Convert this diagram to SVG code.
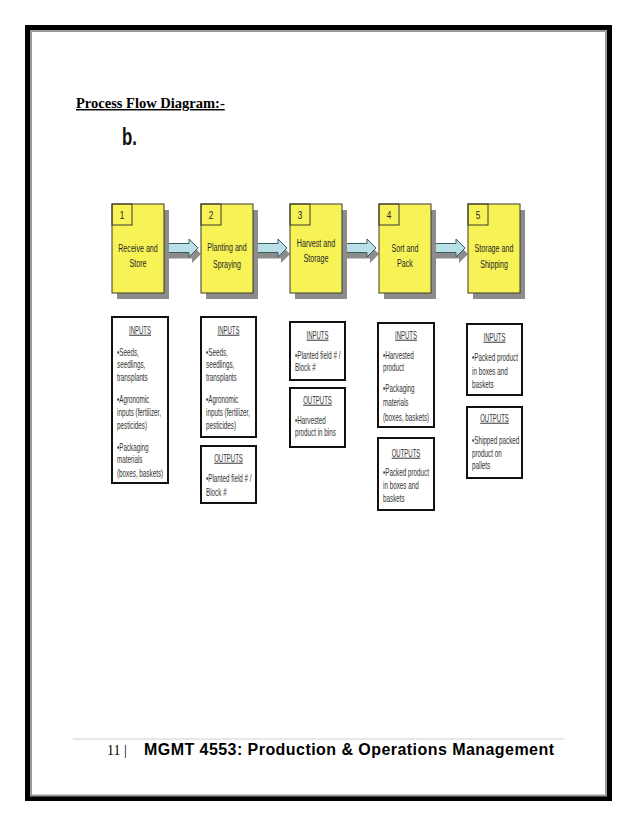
<svg xmlns="http://www.w3.org/2000/svg" width="638" height="826" viewBox="0 0 638 826">
<style>
.frame{fill:none;stroke:#000;stroke-width:5}
.frame2{fill:none;stroke:#9a9a9a;stroke-width:2}
.title{font-family:"Liberation Serif",serif;font-weight:bold;font-size:14.5px;text-decoration:underline;fill:#000}
.pbox{fill:#f7f356;stroke:#3a3a2a;stroke-width:1}
.shadow{fill:#8c8c8c}
.nbox{fill:none;stroke:#3a3a2a;stroke-width:1}
.lbl{font-family:"Liberation Sans",Arial,sans-serif;font-size:11.5px;fill:#262626;text-anchor:middle}
.num{font-family:"Liberation Sans",Arial,sans-serif;font-size:11px;fill:#262626;text-anchor:middle}
.ibox{fill:#fff;stroke:#111;stroke-width:2}
.hdr{font-family:"Liberation Sans",Arial,sans-serif;font-size:10px;fill:#333;text-anchor:middle;text-decoration:underline}
.itm{font-family:"Liberation Sans",Arial,sans-serif;font-size:10px;fill:#333}
.arrow{fill:#b9e0e6;stroke:#3d5a60;stroke-width:1}
.ashadow{fill:#8c8c8c}
.foot{font-family:"Liberation Sans",Arial,sans-serif;font-weight:bold;font-size:16px;fill:#000}
.pg{font-family:"Liberation Serif",serif;font-size:14px;fill:#000}
</style>
<defs>
<path id="arr" d="M0,-4.5 H23 V-9 L32,0 L23,9 V4.5 H0 Z"/>
</defs>
<rect width="638" height="826" fill="#fff"/>
<rect class="frame" x="27.5" y="27.5" width="582" height="771"/>
<rect class="frame2" x="31" y="31" width="575" height="764.5"/>
<text class="title" x="76" y="108">Process Flow Diagram:-</text>
<text font-family="Liberation Sans,Arial,sans-serif" font-size="24" font-weight="bold" fill="#111" transform="translate(122,145) scale(0.7,1)">b.</text>

<g id="connectors">
<use href="#arr" class="ashadow" transform="translate(169,254)"/>
<use href="#arr" class="arrow" transform="translate(166,248)"/>
<use href="#arr" class="ashadow" transform="translate(258,254)"/>
<use href="#arr" class="arrow" transform="translate(255,248)"/>
<use href="#arr" class="ashadow" transform="translate(347,254)"/>
<use href="#arr" class="arrow" transform="translate(344,248)"/>
<use href="#arr" class="ashadow" transform="translate(436,254)"/>
<use href="#arr" class="arrow" transform="translate(433,248)"/>
</g>

<g id="step1">
<rect class="shadow" x="117" y="210" width="52" height="89"/>
<rect class="pbox" x="112" y="204" width="52" height="89"/>
<rect class="nbox" x="112" y="204" width="20" height="21"/>
<text class="num" transform="translate(122,219) scale(0.75,1)">1</text>
<text class="lbl" transform="translate(138,252) scale(0.62,1)">Receive and</text>
<text class="lbl" transform="translate(138,267) scale(0.62,1)">Store</text>
</g>
<g id="step2">
<rect class="shadow" x="206" y="210" width="52" height="89"/>
<rect class="pbox" x="201" y="204" width="52" height="89"/>
<rect class="nbox" x="201" y="204" width="20" height="21"/>
<text class="num" transform="translate(211,219) scale(0.75,1)">2</text>
<text class="lbl" transform="translate(227,251) scale(0.62,1)">Planting and</text>
<text class="lbl" transform="translate(227,268) scale(0.62,1)">Spraying</text>
</g>
<g id="step3">
<rect class="shadow" x="295" y="210" width="52" height="89"/>
<rect class="pbox" x="290" y="204" width="52" height="89"/>
<rect class="nbox" x="290" y="204" width="20" height="21"/>
<text class="num" transform="translate(300,219) scale(0.75,1)">3</text>
<text class="lbl" transform="translate(316,247) scale(0.62,1)">Harvest and</text>
<text class="lbl" transform="translate(316,262) scale(0.62,1)">Storage</text>
</g>
<g id="step4">
<rect class="shadow" x="384" y="210" width="52" height="89"/>
<rect class="pbox" x="379" y="204" width="52" height="89"/>
<rect class="nbox" x="379" y="204" width="20" height="21"/>
<text class="num" transform="translate(389,219) scale(0.75,1)">4</text>
<text class="lbl" transform="translate(405,252) scale(0.62,1)">Sort and</text>
<text class="lbl" transform="translate(405,267) scale(0.62,1)">Pack</text>
</g>
<g id="step5">
<rect class="shadow" x="473" y="210" width="52" height="89"/>
<rect class="pbox" x="468" y="204" width="52" height="89"/>
<rect class="nbox" x="468" y="204" width="20" height="21"/>
<text class="num" transform="translate(478,219) scale(0.75,1)">5</text>
<text class="lbl" transform="translate(494,252) scale(0.62,1)">Storage and</text>
<text class="lbl" transform="translate(494,268) scale(0.62,1)">Shipping</text>
</g>

<g id="inputs1">
<rect class="ibox" x="112" y="317" width="56" height="166"/>
<text class="hdr" transform="translate(140,333.5) scale(0.6,1)">INPUTS</text>
<text class="itm" transform="translate(117,355.5) scale(0.63,1)">•Seeds,</text>
<text class="itm" transform="translate(117,367.5) scale(0.63,1)">seedlings,</text>
<text class="itm" transform="translate(117,380.5) scale(0.63,1)">transplants</text>
<text class="itm" transform="translate(117,402.5) scale(0.63,1)">•Agronomic</text>
<text class="itm" transform="translate(117,415.5) scale(0.63,1)">inputs (fertilizer,</text>
<text class="itm" transform="translate(117,428.5) scale(0.63,1)">pesticides)</text>
<text class="itm" transform="translate(117,450.5) scale(0.63,1)">•Packaging</text>
<text class="itm" transform="translate(117,462.5) scale(0.63,1)">materials</text>
<text class="itm" transform="translate(117,476.5) scale(0.63,1)">(boxes, baskets)</text>
</g>
<g id="inputs2">
<rect class="ibox" x="201" y="317" width="55" height="120"/>
<text class="hdr" transform="translate(228.5,333.5) scale(0.6,1)">INPUTS</text>
<text class="itm" transform="translate(206,355.5) scale(0.63,1)">•Seeds,</text>
<text class="itm" transform="translate(206,367.5) scale(0.63,1)">seedlings,</text>
<text class="itm" transform="translate(206,380.5) scale(0.63,1)">transplants</text>
<text class="itm" transform="translate(206,402.5) scale(0.63,1)">•Agronomic</text>
<text class="itm" transform="translate(206,415.5) scale(0.63,1)">inputs (fertilizer,</text>
<text class="itm" transform="translate(206,428.5) scale(0.63,1)">pesticides)</text>
</g>
<g id="outputs2">
<rect class="ibox" x="201" y="446" width="55" height="57"/>
<text class="hdr" transform="translate(228.5,461.5) scale(0.6,1)">OUTPUTS</text>
<text class="itm" transform="translate(206,481.5) scale(0.63,1)">•Planted field # /</text>
<text class="itm" transform="translate(206,495.5) scale(0.63,1)">Block #</text>
</g>
<g id="inputs3">
<rect class="ibox" x="290" y="322" width="55" height="58"/>
<text class="hdr" transform="translate(317.5,338.5) scale(0.6,1)">INPUTS</text>
<text class="itm" transform="translate(295,358.5) scale(0.63,1)">•Planted field # /</text>
<text class="itm" transform="translate(295,370.5) scale(0.63,1)">Block #</text>
</g>
<g id="outputs3">
<rect class="ibox" x="290" y="388" width="55" height="59"/>
<text class="hdr" transform="translate(317.5,403.5) scale(0.6,1)">OUTPUTS</text>
<text class="itm" transform="translate(295,423.5) scale(0.63,1)">•Harvested</text>
<text class="itm" transform="translate(295,435.5) scale(0.63,1)">product in bins</text>
</g>
<g id="inputs4">
<rect class="ibox" x="378" y="323" width="56" height="104"/>
<text class="hdr" transform="translate(406,338.5) scale(0.6,1)">INPUTS</text>
<text class="itm" transform="translate(383,358.5) scale(0.63,1)">•Harvested</text>
<text class="itm" transform="translate(383,370.5) scale(0.63,1)">product</text>
<text class="itm" transform="translate(383,391.5) scale(0.63,1)">•Packaging</text>
<text class="itm" transform="translate(383,405.5) scale(0.63,1)">materials</text>
<text class="itm" transform="translate(383,420.5) scale(0.63,1)">(boxes, baskets)</text>
</g>
<g id="outputs4">
<rect class="ibox" x="378" y="438" width="56" height="72"/>
<text class="hdr" transform="translate(406,456.5) scale(0.6,1)">OUTPUTS</text>
<text class="itm" transform="translate(383,475.5) scale(0.63,1)">•Packed product</text>
<text class="itm" transform="translate(383,488.5) scale(0.63,1)">in boxes and</text>
<text class="itm" transform="translate(383,501.5) scale(0.63,1)">baskets</text>
</g>
<g id="inputs5">
<rect class="ibox" x="467" y="324" width="55" height="71"/>
<text class="hdr" transform="translate(494.5,340.5) scale(0.6,1)">INPUTS</text>
<text class="itm" transform="translate(472,360.5) scale(0.63,1)">•Packed product</text>
<text class="itm" transform="translate(472,374.5) scale(0.63,1)">in boxes and</text>
<text class="itm" transform="translate(472,387.5) scale(0.63,1)">baskets</text>
</g>
<g id="outputs5">
<rect class="ibox" x="467" y="407" width="55" height="71"/>
<text class="hdr" transform="translate(494.5,421.5) scale(0.6,1)">OUTPUTS</text>
<text class="itm" transform="translate(472,443.5) scale(0.63,1)">•Shipped packed</text>
<text class="itm" transform="translate(472,456.5) scale(0.63,1)">product on</text>
<text class="itm" transform="translate(472,468.5) scale(0.63,1)">pallets</text>
</g>

<line x1="73" y1="739" x2="564" y2="739" stroke="#d0d0d0" stroke-width="1"/>
<text class="pg" x="107" y="755">11 |</text>
<text class="foot" x="144" y="755" textLength="410">MGMT 4553:  Production &amp; Operations Management</text>
</svg>
